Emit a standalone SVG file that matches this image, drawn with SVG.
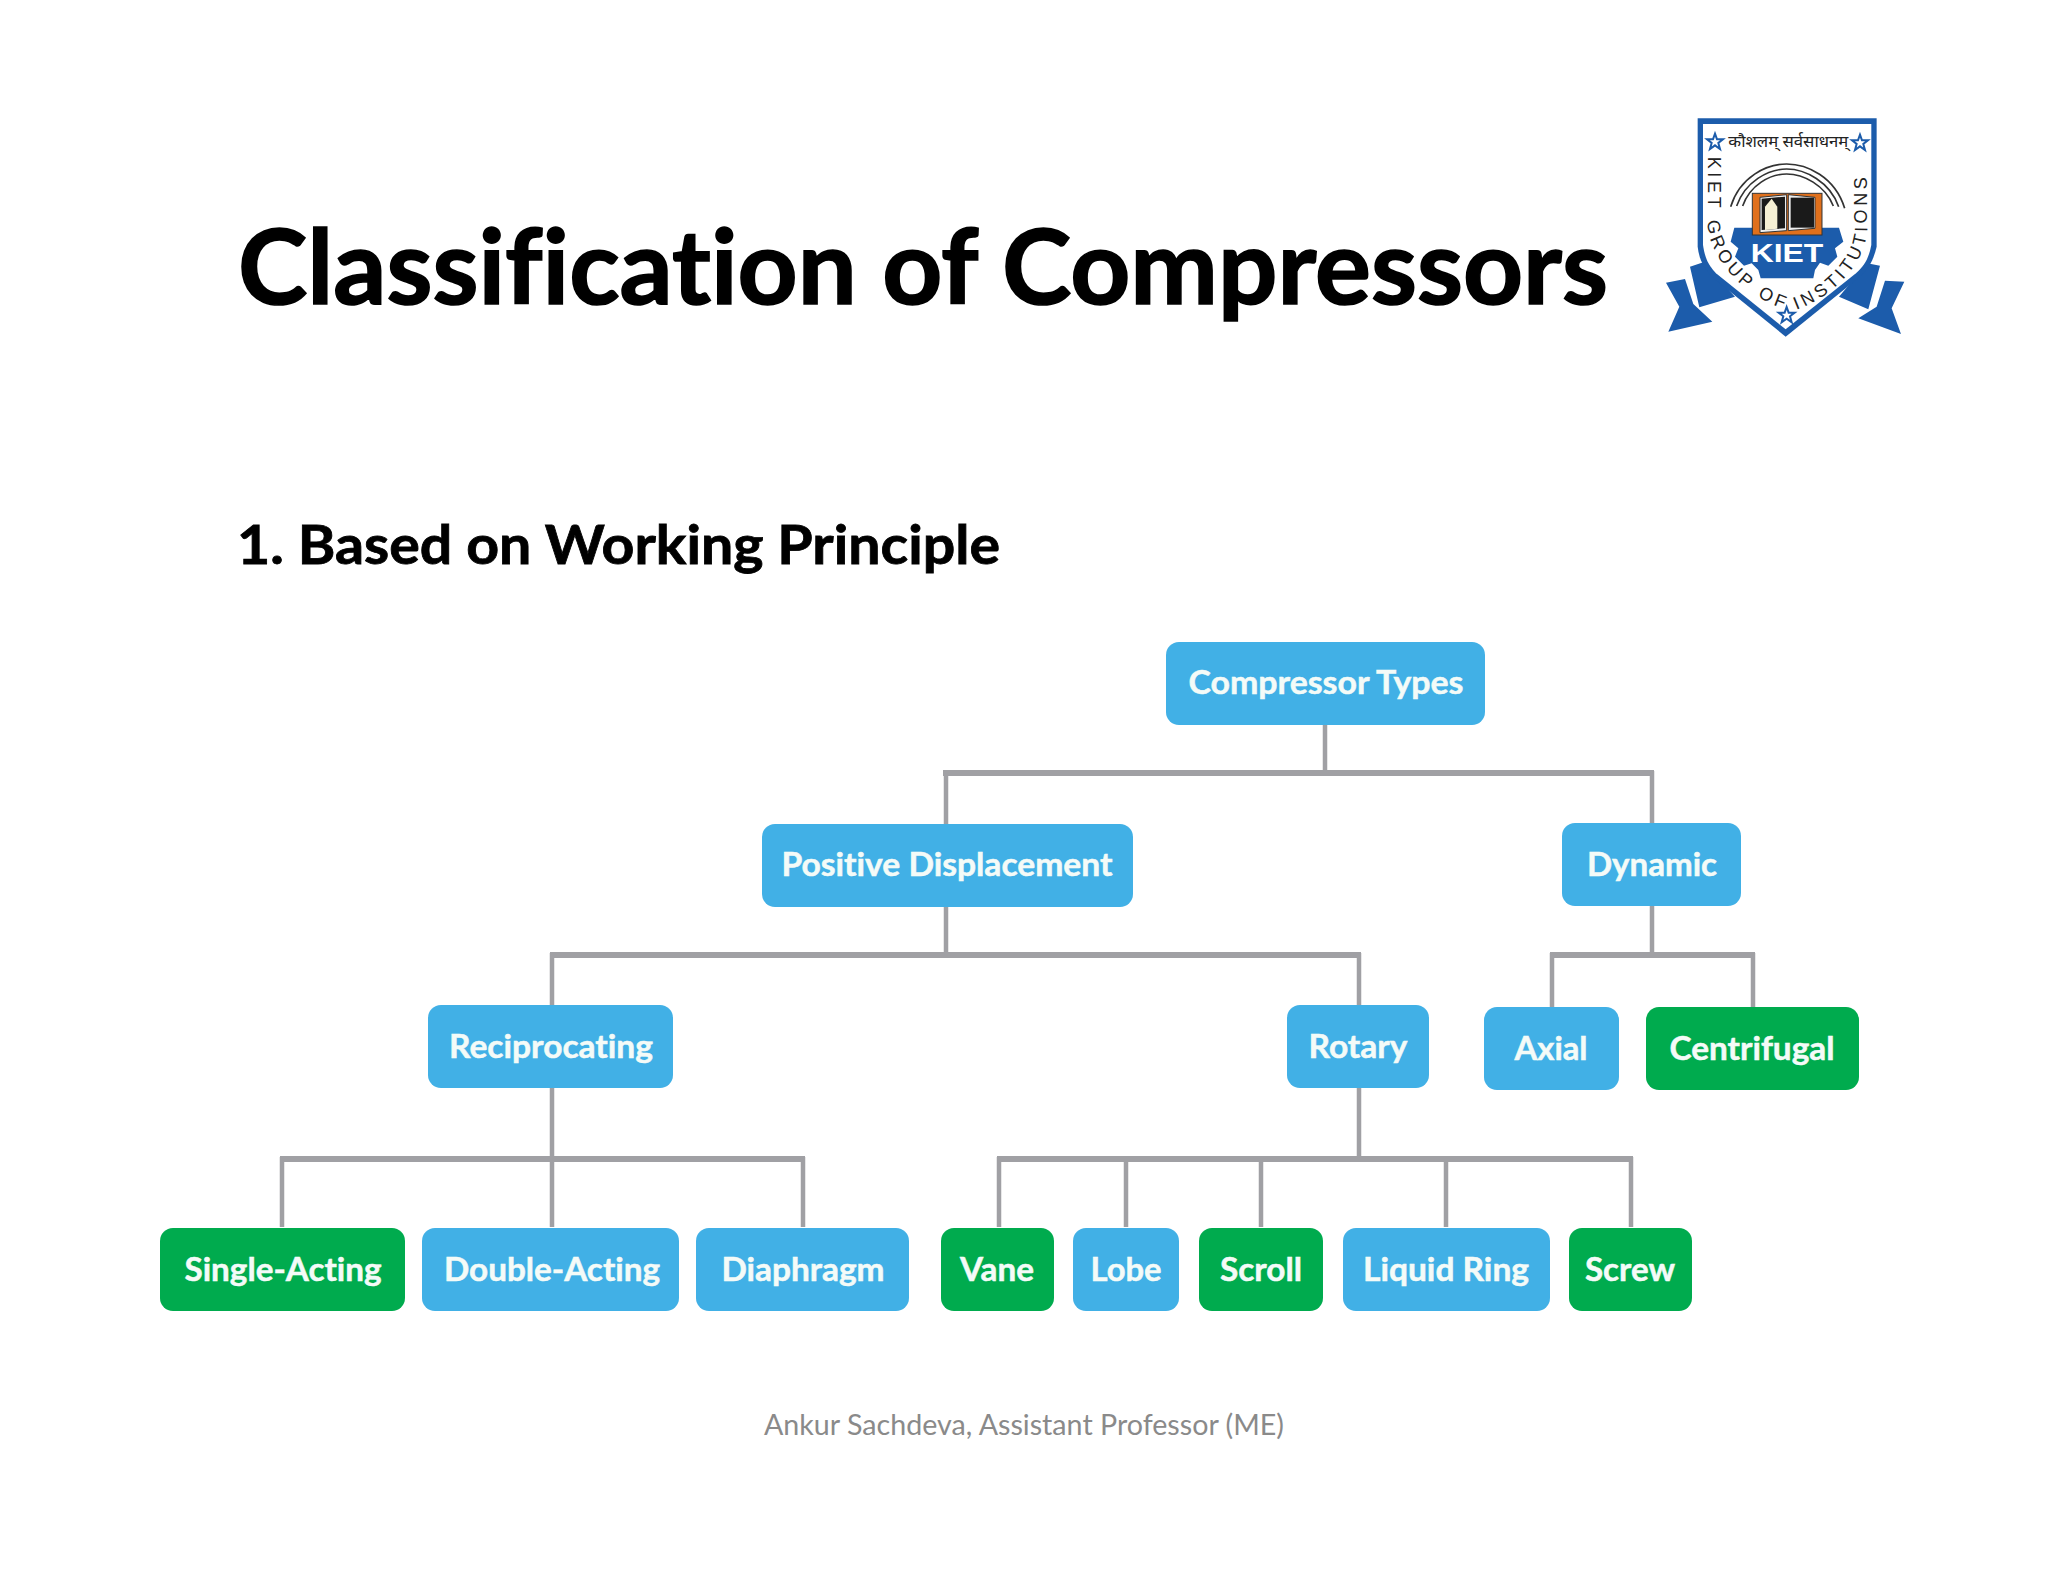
<svg xmlns="http://www.w3.org/2000/svg" width="2048" height="1582" viewBox="0 0 2048 1582">
<style>
text{font-variant-ligatures:none}
.b{fill:#41b0e6}.g{fill:#00ab4e}
.l{font-family:"Lato","Open Sans",sans-serif;font-weight:700;font-size:32px;fill:#f4fbf8;text-anchor:middle;stroke:#f4fbf8;stroke-width:.5}
.h{font-family:"Lato","Open Sans",sans-serif;font-weight:700;fill:#000;stroke:#000}
.c path{fill:none;stroke:#a0a0a4;stroke-width:4.5}
.c path.t{stroke-width:6}
.star{fill:#fff;stroke:#1c5cab;stroke-width:6}
</style>
<defs>
<polygon id="s" points="0,-24 6,-7 24,-7 10,4 15,22 0,11 -15,22 -10,4 -24,-7 -6,-7"/>
<path id="ring" d="M203,165 V380 C213,470 300,590 455,634 C590,590 682,480 682,380 V165"/>
</defs>
<rect width="2048" height="1582" fill="#fff"/>
<text class="h" x="238" y="304" font-size="104" stroke-width="1.6" textLength="1370" lengthAdjust="spacingAndGlyphs">Classification of Compressors</text>
<text class="h" x="237" y="564" font-size="53" stroke-width=".8" textLength="763" lengthAdjust="spacingAndGlyphs">1. Based on Working Principle</text>
<text x="764" y="1435" font-family="Lato,'Open Sans',sans-serif" font-size="28.5" fill="#8a8a8a" textLength="520" lengthAdjust="spacingAndGlyphs">Ankur Sachdeva, Assistant Professor (ME)</text>

<g id="logo" transform="translate(1640 100) scale(.3333)">
<path fill="#1c5cab" d="M150,500 190,487 285,590 178,622ZM78,548 135,537 160,612 217,665 85,695 118,620ZM720,497 682,490 597,590 685,628ZM735,542 793,545 755,625 783,702 655,655 710,620Z"/>
<path fill="#1c5cab" d="M173,55H710V440C700,480 690,500 660,530L437,710 215,530C190,500 178,480 173,440Z"/>
<path fill="#fff" d="M189,72H694V435C686,475 675,495 648,520L437,688 228,520C205,495 195,475 189,435Z"/>
<use href="#s" class="star" x="225" y="125"/><use href="#s" class="star" x="660" y="128"/><use href="#s" class="star" x="440" y="645"/>
<text x="445" y="142" font-family="'Noto Sans','DejaVu Sans',sans-serif" font-size="50" fill="#222" text-anchor="middle" textLength="360" lengthAdjust="spacingAndGlyphs">कौशलम् सर्वसाधनम्</text>
<path fill="none" stroke="#333" stroke-width="5" d="M272,320C300,230 380,192 440,192S585,230 614,325M290,318C315,245 385,207 440,207S570,245 596,320M308,318C330,255 390,222 440,222S555,255 580,318"/>
<path fill="#1c5cab" d="M283,383H340V405H545V383H597L610,425 585,445 592,470 565,497 540,488 525,510 520,535H362L355,510 335,490 312,497 285,470 295,445 272,425Z"/>
<rect x="337" y="280" width="209" height="125" fill="#e0701c" stroke="#333" stroke-width="3"/>
<path fill="#eee" stroke="#333" stroke-width="3" d="M360,292 440,284V392L360,398ZM445,284 525,292V385L445,392Z"/>
<rect x="452" y="293" width="70" height="90" fill="#1a1a1a"/>
<path fill="#1a1a1a" d="M365,296 435,290V385L365,390Z"/>
<path fill="#f6f0d4" d="M375,390V320L395,296 412,320V386Z"/>
<text x="441" y="487" font-family="'Liberation Sans',sans-serif" font-weight="700" font-size="80" fill="#fff" text-anchor="middle" textLength="218" lengthAdjust="spacingAndGlyphs">KIET</text>
<text font-family="'Liberation Sans',sans-serif" font-size="54" fill="#222" letter-spacing="11" word-spacing="4"><textPath href="#ring" startOffset="5">KIET GROUP OF INSTITUTIONS</textPath></text>
</g>

<g id="connectors" class="c">
<path d="M1325,725V773M946,771V824M1652,771V823"/><path class="t" d="M943,773H1654"/>
<path d="M946,907V955M552,953V1005M1359,953V1005"/><path class="t" d="M550,955H1361"/>
<path d="M1652,906V955M1552,953V1007M1753,953V1007"/><path class="t" d="M1550,955H1755"/>
<path d="M552,1088V1227M282,1157V1227M803,1157V1227"/><path class="t" d="M280,1159H805"/>
<path d="M1359,1088V1159M999,1157V1227M1126,1159V1227M1261,1159V1227M1446,1159V1227M1631,1157V1227"/><path class="t" d="M997,1159H1633"/>
</g>

<g id="n1"><rect class="b" x="1166" y="642" width="319" height="83" rx="13"/><text class="l" x="1326" y="694" textLength="275" lengthAdjust="spacingAndGlyphs">Compressor Types</text></g>
<g id="n2"><rect class="b" x="762" y="824" width="371" height="83" rx="13"/><text class="l" x="947" y="876" textLength="331" lengthAdjust="spacingAndGlyphs">Positive Displacement</text></g>
<g id="n3"><rect class="b" x="1562" y="823" width="179" height="83" rx="13"/><text class="l" x="1652" y="876" textLength="130" lengthAdjust="spacingAndGlyphs">Dynamic</text></g>
<g id="n4"><rect class="b" x="428" y="1005" width="245" height="83" rx="13"/><text class="l" x="551" y="1058" textLength="204" lengthAdjust="spacingAndGlyphs">Reciprocating</text></g>
<g id="n5"><rect class="b" x="1287" y="1005" width="142" height="83" rx="13"/><text class="l" x="1358" y="1058" textLength="99" lengthAdjust="spacingAndGlyphs">Rotary</text></g>
<g id="n6"><rect class="b" x="1484" y="1007" width="135" height="83" rx="13"/><text class="l" x="1551" y="1060" textLength="73" lengthAdjust="spacingAndGlyphs">Axial</text></g>
<g id="n7"><rect class="g" x="1646" y="1007" width="213" height="83" rx="13"/><text class="l" x="1752" y="1060" textLength="165" lengthAdjust="spacingAndGlyphs">Centrifugal</text></g>
<g id="n8"><rect class="g" x="160" y="1228" width="245" height="83" rx="13"/><text class="l" x="283" y="1281" textLength="197" lengthAdjust="spacingAndGlyphs">Single-Acting</text></g>
<g id="n9"><rect class="b" x="422" y="1228" width="257" height="83" rx="13"/><text class="l" x="552" y="1281" textLength="216" lengthAdjust="spacingAndGlyphs">Double-Acting</text></g>
<g id="n10"><rect class="b" x="696" y="1228" width="213" height="83" rx="13"/><text class="l" x="803" y="1281" textLength="163" lengthAdjust="spacingAndGlyphs">Diaphragm</text></g>
<g id="n11"><rect class="g" x="941" y="1228" width="113" height="83" rx="13"/><text class="l" x="997" y="1281" textLength="74" lengthAdjust="spacingAndGlyphs">Vane</text></g>
<g id="n12"><rect class="b" x="1073" y="1228" width="106" height="83" rx="13"/><text class="l" x="1126" y="1281" textLength="71" lengthAdjust="spacingAndGlyphs">Lobe</text></g>
<g id="n13"><rect class="g" x="1199" y="1228" width="124" height="83" rx="13"/><text class="l" x="1261" y="1281" textLength="82" lengthAdjust="spacingAndGlyphs">Scroll</text></g>
<g id="n14"><rect class="b" x="1343" y="1228" width="207" height="83" rx="13"/><text class="l" x="1446" y="1281" textLength="166" lengthAdjust="spacingAndGlyphs">Liquid Ring</text></g>
<g id="n15"><rect class="g" x="1569" y="1228" width="123" height="83" rx="13"/><text class="l" x="1630" y="1281" textLength="90" lengthAdjust="spacingAndGlyphs">Screw</text></g>
</svg>
